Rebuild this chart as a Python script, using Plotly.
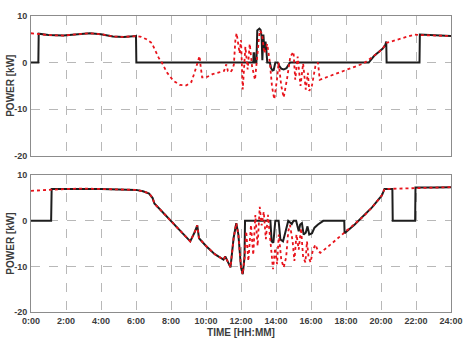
import plotly.graph_objects as go

# ---------------- data (hours, kW) ----------------
top_red_t = [0, 0.5, 1.0, 1.85, 2.5, 3.36, 4.0, 4.68, 5.3, 6.0, 6.3, 6.6, 6.9, 7.1, 7.3, 7.48,
             7.76, 8.13, 8.5, 8.88, 9.16, 9.35, 9.45, 9.53, 9.63, 9.7, 9.78, 10.0, 10.37, 10.75,
             11.03, 11.16, 11.25, 11.4, 11.5, 11.59, 11.68, 11.75, 11.85, 11.92, 12.0, 12.1,
             12.25, 12.38, 12.5, 12.63, 12.8, 12.9, 13.07, 13.2, 13.33, 13.5, 13.65, 13.77, 13.9,
             14.06, 14.15, 14.3, 14.44, 14.63, 14.82, 15.0, 15.1, 15.24, 15.4, 15.55, 15.7, 15.82,
             15.9, 16.05, 16.25, 16.4, 16.5, 17.0, 17.5, 18.0, 18.5, 19.0, 19.3, 19.6, 19.9, 20.1,
             20.25, 20.3, 21.0, 21.5, 21.9, 22.3, 23.0, 24.0]
top_red_v = [6.3, 6.1, 5.9, 5.8, 6.0, 6.3, 6.1, 5.6, 5.5, 5.7, 5.5, 5.0, 4.2, 2.5, 1.0, 0.0,
             -2.1, -3.9, -4.8, -4.9, -4.2, -2.1, -1.0, 0.0, 1.4, -1.0, -3.2, -3.2, -2.5, -2.1,
             -1.8, -0.4, -1.8, -2.1, -1.5, -0.5, 4.9, 6.3, 3.0, 2.0, 4.8, -5.8,
             3.4, -1.5, 4.0, -0.8, -3.7, 0.0, 6.9, 6.2, 2.0, 4.0, 0.0, -5.1, -7.9,
             -3.5, 0.0, -5.0, -7.5, -3.5, 1.3, 2.3, -3.7, 1.3, -5.0, -0.2, -5.8, -2.2,
             -6.1, -5.0, -0.8, 0.0, -3.7, -3.0, -2.3, -1.6, -0.9, -0.2, 0.6, 1.4, 2.3, 3.0,
             3.8, 4.2, 5.0, 5.6, 6.0, 5.9, 5.8, 5.7]

top_blk_t = [0, 0.42, 0.44, 1.0, 1.85, 2.5, 3.36, 4.0, 4.68, 5.3, 6.0, 6.02, 12.7, 12.72,
             12.76, 12.78, 12.88, 12.93, 13.05, 13.12, 13.18, 13.22, 13.28, 13.34, 13.4, 13.45,
             13.5, 13.65, 13.72, 13.8, 13.87, 13.96, 14.1, 14.2, 14.3, 14.44, 14.6, 14.8,
             19.3, 19.6, 19.9, 20.1, 20.25, 20.3, 20.32, 22.2, 22.22, 23.0, 24.0]
top_blk_v = [0, 0, 6.2, 5.9, 5.8, 6.0, 6.3, 6.1, 5.6, 5.5, 5.7, 0, 0, 2.0,
             2.0, 0, 0, 6.9, 7.3, 7.0, 5.5, 0.5, 6.0, 2.5, 4.5, 2.7,
             0, 0, -1.2, -1.7, -1.6, 0, 0, -0.8, -1.3, -1.5, -1.2, 0,
             0, 1.4, 2.3, 3.0, 3.8, 4.5, 0, 0, 6.0, 5.8, 5.7]

bot_red_t = [0, 0.5, 1.0, 1.2, 2.0, 3.0, 4.0, 5.0, 6.0, 6.4, 6.75, 6.95, 7.05, 7.5, 8.0, 8.5,
             9.1, 9.35, 9.5, 9.6, 10.0, 10.5, 11.0, 11.1, 11.2, 11.4, 11.58, 11.73, 11.85, 12.0,
             12.1, 12.2, 12.3, 12.42, 12.57, 12.7, 12.82, 12.95, 13.07, 13.18, 13.3, 13.42, 13.54,
             13.68, 13.83, 13.95, 14.06, 14.16, 14.3, 14.44, 14.58, 14.7, 14.8, 14.95, 15.05,
             15.17, 15.3, 15.43, 15.55, 15.68, 15.77, 15.86, 15.98, 16.1, 16.25, 16.4, 16.53,
             16.9, 17.3, 17.9, 18.5, 19.0, 19.5, 20.05, 20.2, 21.0, 22.0, 23.0, 24.0]
bot_red_v = [6.6, 6.7, 6.9, 7.0, 7.0, 7.1, 7.0, 6.9, 6.8, 6.5, 6.0, 5.0, 3.8, 2.0, 0.0, -2.0,
             -4.5, -2.5, -1.0, -3.8, -5.5, -7.3, -8.5, -7.8, -8.7, -10.2, -3.7, -0.5, -3.0, -10.2,
             -11.7, -8.0, -2.3, -8.8, -0.9, -7.5, 1.3, -5.5, 3.1, -1.0, 2.0, -4.0, 1.3,
             -5.0, -10.6, -6.0, -9.5, -3.0, -8.5, -10.2, -8.0, -2.3, -0.9, -4.5, -8.8,
             -3.0, -6.3, -1.6, -8.0, -9.1, -4.5, -8.0, -9.1, -6.5, -5.2, -6.6, -7.0,
             -5.9, -4.6, -2.7, -0.8, 1.0, 3.0, 5.6, 7.0, 7.1, 7.2, 7.3, 7.4]

bot_blk_t = [0, 1.15, 1.18, 2.0, 3.0, 4.0, 5.0, 6.0, 6.4, 6.75, 6.95, 7.05, 7.5, 8.0, 8.5,
             9.1, 9.35, 9.5, 9.6, 10.0, 10.5, 11.0, 11.1, 11.2, 11.4, 11.58, 11.73, 11.85, 12.0,
             12.1, 12.2, 12.23, 13.68, 13.75, 13.85, 13.96, 14.15, 14.25, 14.4, 14.6, 14.7,
             14.9, 15.0, 15.15, 15.3, 15.38, 15.48, 15.58, 15.7, 15.8, 15.9, 16.06, 16.2,
             16.4, 16.7, 17.9, 17.92, 18.5, 19.0, 19.5, 20.05, 20.2, 20.65, 20.67, 21.95, 21.97,
             23.0, 24.0]
bot_blk_v = [0, 0, 7.0, 7.0, 7.1, 7.0, 6.9, 6.8, 6.5, 6.0, 5.0, 3.8, 2.0, 0.0, -2.0,
             -4.5, -2.5, -1.0, -3.8, -5.5, -7.3, -8.5, -7.8, -8.7, -10.2, -3.7, -0.5, -3.0, -10.2,
             -11.7, -8.0, 0, 0, -4.5, -4.8, 0, 0, -4.1, -4.5, -1.5, 0,
             -0.7, 0, 0, -2.3, -0.8, -0.5, -3.0, -2.6, -1.2, -3.0, -2.7, -1.5,
             -0.8, 0, 0, -2.7, -0.8, 1.0, 3.0, 5.6, 7.0, 7.0, 0, 0, 7.3,
             7.3, 7.4]

x_ticks = list(range(0, 25, 2))
x_labels = [f"{h}:00" for h in x_ticks]
y_ticks = [-20, -10, 0, 10]
y_labels = ["-20", "-10", "0", "10"]

# ---------------- figure ----------------
BLACK = "#1e1e1e"
RED = "#e8141c"

fig = go.Figure()
fig.add_trace(go.Scatter(x=top_blk_t, y=top_blk_v, mode="lines",
                         line=dict(color=BLACK, width=2), xaxis="x", yaxis="y"))
fig.add_trace(go.Scatter(x=top_red_t, y=top_red_v, mode="lines",
                         line=dict(color=RED, width=1.8, dash="dot"), xaxis="x", yaxis="y"))
fig.add_trace(go.Scatter(x=bot_blk_t, y=bot_blk_v, mode="lines",
                         line=dict(color=BLACK, width=2), xaxis="x2", yaxis="y2"))
fig.add_trace(go.Scatter(x=bot_red_t, y=bot_red_v, mode="lines",
                         line=dict(color=RED, width=1.8, dash="dot"), xaxis="x2", yaxis="y2"))

tickfont = dict(family="Liberation Sans", size=9, color="#3c3c3c", weight="bold")
common_x = dict(range=[0, 24], tickvals=x_ticks, showgrid=True, gridcolor="#b8b8b8",
                griddash="dash", gridwidth=1, showline=True, linecolor="#8c8c8c",
                linewidth=1, mirror=True, zeroline=False, ticks="", tickfont=tickfont)
common_y = dict(range=[-20, 10], tickvals=y_ticks, ticktext=y_labels, showgrid=True,
                gridcolor="#b8b8b8", griddash="dash", gridwidth=1, showline=True,
                linecolor="#8c8c8c", linewidth=1, mirror=True, zeroline=False, ticks="",
                tickfont=tickfont, ticklabelstandoff=1)

H = 349
mt, mb = 11, 37
ph = H - mt - mb
top_dom = [(312 - 153) / ph, 1.0]
bot_dom = [0.0, (312 - 173) / ph]

fig.update_layout(
    width=474, height=349,
    margin=dict(l=31, r=19, t=mt, b=mb),
    paper_bgcolor="white", plot_bgcolor="white",
    showlegend=False,
    xaxis=dict(common_x, domain=[0, 1], anchor="y", showticklabels=False),
    yaxis=dict(common_y, domain=top_dom, anchor="x"),
    xaxis2=dict(common_x, domain=[0, 1], anchor="y2", ticktext=x_labels,
                title=dict(text="TIME [HH:MM]", standoff=4,
                           font=dict(family="Liberation Sans", size=10, color="#3c3c3c",
                                     weight="bold"))),
    yaxis2=dict(common_y, domain=bot_dom, anchor="x2"),
)

for dom in (top_dom, bot_dom):
    fig.add_annotation(text="POWER [kW]", textangle=-90, xref="paper", yref="paper",
                       x=0, y=(dom[0] + dom[1]) / 2, xanchor="center", yanchor="middle",
                       xshift=-20, showarrow=False,
                       font=dict(family="Liberation Sans", size=10, color="#3c3c3c",
                                 weight="bold"))

fig.write_html("out.html")
